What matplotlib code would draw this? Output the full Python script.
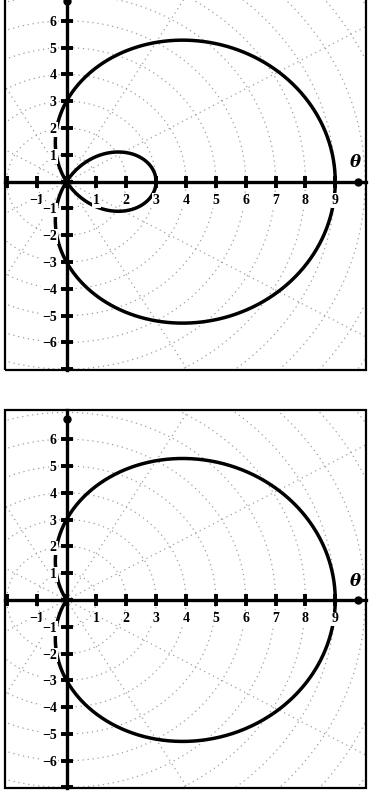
import numpy as np
import matplotlib.pyplot as plt
from matplotlib.patches import Rectangle

# limacon r = a + b*cos(theta)
a_coef = 3
b_coef = 6

x_ticks = [-2, -1, 0, 1, 2, 3, 4, 5, 6, 7, 8, 9]
x_labels = ['', '\u22121', '', '1', '2', '3', '4', '5', '6', '7', '8', '9']
y_ticks = [-7, -6, -5, -4, -3, -2, -1, 0, 1, 2, 3, 4, 5, 6]
y_labels = ['', '\u22126', '\u22125', '\u22124', '\u22123', '\u22122', '\u22121', '',
            '1', '2', '3', '4', '5', '6']
grid_radii = [1, 2, 3, 4, 5, 6, 7, 8, 9, 10, 11, 12]
grid_angles_deg = [0, 30, 60, 90, 120, 150, 180, 210, 240, 270, 300, 330]

# theta ranges of the curve for each panel
top_range = (0, 2 * np.pi)
bottom_range = (-2 * np.pi / 3, 2 * np.pi / 3)

label_font = dict(family='Liberation Serif', weight='bold', size=10)


def polar_xy(t0, t1, n=800):
    t = np.linspace(t0, t1, n)
    r = a_coef + b_coef * np.cos(t)
    return r * np.cos(t), r * np.sin(t)


def draw_panel(ax, theta_range, ylim):
    ax.set_xlim(-2.06, 10.03)
    ax.set_ylim(*ylim)

    # polar grid
    t = np.linspace(0, 2 * np.pi, 500)
    for r in grid_radii:
        ax.plot(r * np.cos(t), r * np.sin(t), color='#a0a0a0', lw=0.9,
                ls=(0, (1, 3)), zorder=1)
    for ang in grid_angles_deg:
        rad = np.deg2rad(ang)
        ax.plot([0, 15 * np.cos(rad)], [0, 15 * np.sin(rad)], color='#a0a0a0',
                lw=0.9, ls=(0, (1, 3)), zorder=1)

    # curve (tick labels sit on top of it)
    x, y = polar_xy(*theta_range)
    ax.plot(x, y, color='black', lw=2.5, zorder=2)

    # axes through the origin
    ax.set_axisbelow(False)
    ax.spines['left'].set_position('zero')
    ax.spines['bottom'].set_position('zero')
    ax.spines['top'].set_visible(False)
    ax.spines['right'].set_visible(False)
    for s in ['left', 'bottom']:
        ax.spines[s].set_linewidth(2.4)
        ax.spines[s].set_zorder(4)

    ax.set_xticks(x_ticks)
    ax.set_xticklabels(x_labels, fontdict=label_font)
    ax.set_yticks(y_ticks)
    ax.set_yticklabels(y_labels, fontdict=label_font)
    ax.tick_params(direction='inout', length=8, width=2.8)
    ax.tick_params(axis='x', pad=5)
    ax.tick_params(axis='y', pad=3)
    for lab in ax.get_xticklabels() + ax.get_yticklabels():
        lab.set_bbox(dict(fc='white', ec='none', pad=0.6))

    # axis end dots
    ax.plot([9.75], [0], 'o', color='black', ms=5, zorder=5, clip_on=False)
    ax.plot([0], [6.75], 'o', color='black', ms=5, zorder=5, clip_on=False)
    ax.text(9.68, 0.72, r'$\boldsymbol{\theta}$', fontsize=12, ha='center',
            va='center')

    ax.add_patch(Rectangle((0, 0), 1, 1, transform=ax.transAxes, fill=False,
                           lw=1.6, ec='black', clip_on=False, zorder=7))


plt.rcParams['mathtext.fontset'] = 'dejavuserif'
fig = plt.figure(figsize=(3.9, 7.92), dpi=100)

ax_top = fig.add_axes([5 / 390, 1 - 370 / 792, 361 / 390, 377.8 / 792])
draw_panel(ax_top, top_range, (-7.03, 7.07))

ax_bot = fig.add_axes([5 / 390, 1 - 788.3 / 792, 361 / 390, 378.3 / 792])
draw_panel(ax_bot, bottom_range, (-7.03, 7.09))

fig.savefig('out.png', dpi=100)
